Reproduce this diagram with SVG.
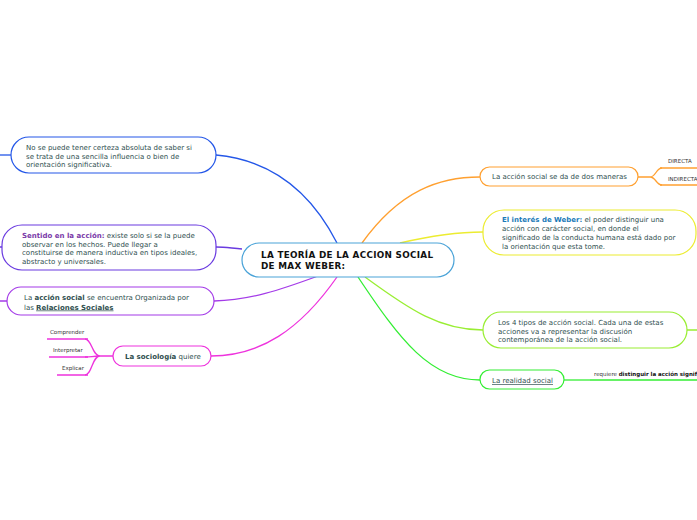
<svg xmlns="http://www.w3.org/2000/svg" width="697" height="520" viewBox="0 0 697 520">
<style>
text{font-family:"DejaVu Sans",Verdana,sans-serif;font-size:7px;fill:#2f4f4f}
.n{fill:#fff;stroke-width:1.2}
.c{fill:none;stroke-width:1.3}
.s{font-size:5.5px;fill:#333}
</style>
<rect width="697" height="520" fill="#fff"/>
<g id="connectors">
<path class="c" stroke="#2457e8" d="M337,243 C310,190 270,160 216,155"/>
<path class="c" stroke="#2457e8" d="M0,155 H11"/>
<path class="c" stroke="#6a3be0" d="M242,249 C230,248 225,247 216,247 M0,247 H2"/>
<path class="c" stroke="#a43be8" d="M318,276 C280,290 250,300 214,301 M0,301 H7"/>
<path class="c" stroke="#ee33dd" d="M337,277 C300,330 260,356 211,356"/>
<path class="c" stroke="#ee33dd" stroke-width="0.8" d="M113,356 H100 C92,356 92,339 85,339 M100,356 C92,356 92,357 85,357 M100,356 C92,356 92,375 85,375"/>
<path class="c" stroke="#ee33dd" d="M47,339 H88 M49,357 H88 M57,375 H88"/>
<path class="c" stroke="#ffa030" d="M362,243 C400,190 440,177 480,177"/>
<path class="c" stroke="#ffa030" stroke-width="0.8" d="M638,177 H650 C656,177 656,168 662,168 M650,177 C656,177 656,185 662,185"/>
<path class="c" stroke="#ffa030" d="M660,168 H697 M660,185 H697"/>
<path class="c" stroke="#ecec30" d="M400,243 C430,236 455,232 483,232"/>
<path class="c" stroke="#99ee33" d="M365,277 C410,310 440,330 483,330 M687,330 H697"/>
<path class="c" stroke="#33ee33" d="M358,277 C400,340 430,380 480,380"/>
<path class="c" stroke="#33ee33" stroke-width="0.8" d="M564,380 H590"/>
<path class="c" stroke="#33ee33" stroke-width="2" d="M590,380 H697"/>
</g>
<g id="center"><rect class="n" x="242" y="243" width="212" height="34" rx="17" stroke="#4aa3d8"/>
<text x="261" y="258" style="font-size:8.8px;font-weight:bold;fill:#111;letter-spacing:0.3px">LA TEORÍA DE LA ACCION SOCIAL</text>
<text x="261" y="269" style="font-size:8.8px;font-weight:bold;fill:#111;letter-spacing:0.3px">DE MAX WEBER:</text></g>
<g id="n1"><rect class="n" x="11" y="137" width="205" height="36" rx="18" stroke="#2457e8"/>
<text x="26" y="150">No se puede tener certeza absoluta de saber si</text>
<text x="26" y="158.5">se trata de una sencilla influencia o bien de</text>
<text x="26" y="167">orientación significativa.</text></g>
<g id="n2"><rect class="n" x="2" y="225" width="214" height="45" rx="20" stroke="#6a3be0"/>
<text x="22" y="238"><tspan font-weight="bold" fill="#7a3aa8">Sentido en la acción:</tspan> existe solo si se la puede</text>
<text x="22" y="246.5">observar en los hechos. Puede llegar a</text>
<text x="22" y="255">constituirse de manera inductiva en tipos ideales,</text>
<text x="22" y="263.5">abstracto y universales.</text></g>
<g id="n3"><rect class="n" x="7" y="287" width="207" height="28" rx="14" stroke="#a43be8"/>
<text x="24" y="300">La <tspan font-weight="bold">acción social</tspan> se encuentra Organizada por</text>
<text x="24" y="309.5">las <tspan font-weight="bold" text-decoration="underline">Relaciones Sociales</tspan></text></g>
<g id="n4"><rect class="n" x="113" y="346" width="98" height="20" rx="10" stroke="#ee33dd"/>
<text x="125" y="359"><tspan font-weight="bold">La sociología</tspan> quiere</text></g>
<g id="n4a"><text class="s" x="50" y="334">Comprender</text></g>
<g id="n4b"><text class="s" x="53" y="352">Interpretar</text></g>
<g id="n4c"><text class="s" x="62" y="370">Explicar</text></g>
<g id="n5"><rect class="n" x="480" y="167" width="158" height="19" rx="9.5" stroke="#ffa030"/>
<text x="492" y="179">La acción social se da de dos maneras</text></g>
<g id="n5a"><text class="s" x="668" y="163">DIRECTA</text></g>
<g id="n5b"><text class="s" x="668" y="181">INDIRECTA</text></g>
<g id="n6"><rect class="n" x="483" y="210" width="213" height="45" rx="21" stroke="#ecec30"/>
<text x="502" y="222"><tspan font-weight="bold" fill="#1a7ab8">El interés de Weber:</tspan> el poder distinguir una</text>
<text x="502" y="231">acción con carácter social, en donde el</text>
<text x="502" y="240">significado de la conducta humana está dado por</text>
<text x="502" y="249">la orientación que esta tome.</text></g>
<g id="n7"><rect class="n" x="483" y="312" width="204" height="36" rx="18" stroke="#99ee33"/>
<text x="498" y="325">Los 4 tipos de acción social. Cada una de estas</text>
<text x="498" y="333.5">acciones va a representar la discusión</text>
<text x="498" y="342">contemporánea de la acción social.</text></g>
<g id="n8"><rect class="n" x="480" y="370" width="84" height="19" rx="9.5" stroke="#33ee33"/>
<text x="492" y="383" text-decoration="underline">La realidad social</text></g>
<g id="n8a"><text class="s" x="594" y="376">requiere <tspan font-weight="bold" fill="#111">distinguir la acción signif</tspan></text></g>
</svg>
